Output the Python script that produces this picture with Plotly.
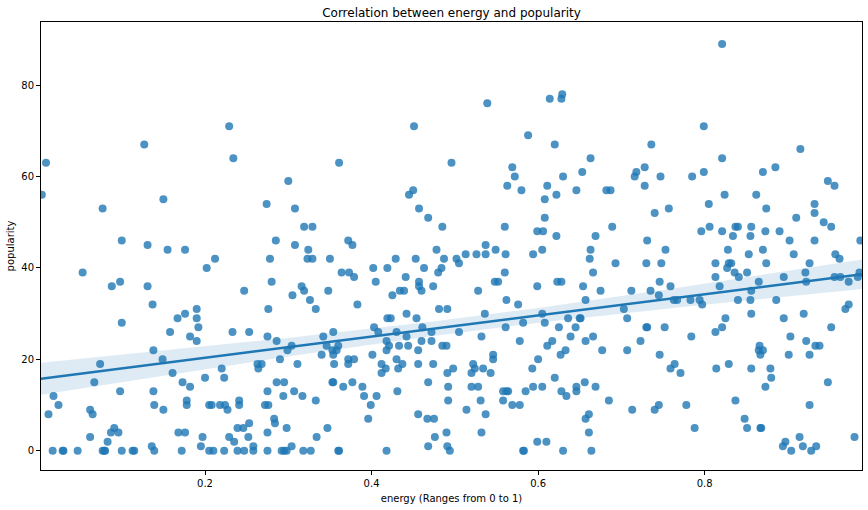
import plotly.graph_objects as go
import numpy as np

# energy / popularity pairs (popularity > 0)
energy = [
    0.009, 0.004, 0.077, 0.127, 0.150, 0.100, 0.131, 0.155, 0.176, 0.229,
    0.234, 0.202, 0.212, 0.053, 0.088, 0.098, 0.131, 0.247, 0.137, 0.100,
    0.167, 0.176, 0.190, 0.190, 0.192, 0.158, 0.182, 0.190, 0.233, 0.253,
    0.138, 0.074, 0.149, 0.161, 0.067, 0.098, 0.138, 0.173, 0.182, 0.200,
    0.220, 0.223, 0.018, 0.024, 0.012, 0.062, 0.065, 0.139, 0.150, 0.178,
    0.178, 0.205, 0.208, 0.218, 0.224, 0.227, 0.241, 0.241, 0.239, 0.246,
    0.253, 0.229, 0.235, 0.252, 0.062, 0.083, 0.087, 0.091, 0.096, 0.136,
    0.168, 0.176, 0.197, 0.195,
    # 0.25 - 0.50
    0.451, 0.361, 0.496, 0.300, 0.274, 0.308, 0.319, 0.329, 0.285, 0.308,
    0.324, 0.372, 0.377, 0.450, 0.445, 0.457, 0.468, 0.485, 0.478, 0.278,
    0.323, 0.329, 0.350, 0.429, 0.453, 0.487, 0.502, 0.505, 0.402, 0.419,
    0.463, 0.364, 0.373, 0.379, 0.484, 0.480, 0.280, 0.405, 0.441, 0.457,
    0.457, 0.460, 0.474, 0.316, 0.319, 0.305, 0.348, 0.326, 0.434, 0.439,
    0.425, 0.276, 0.333, 0.383, 0.481, 0.491, 0.442, 0.454, 0.419, 0.423,
    0.275, 0.286, 0.342, 0.354, 0.403, 0.408, 0.430, 0.461, 0.472, 0.505,
    0.442, 0.418, 0.460, 0.472, 0.304, 0.299, 0.346, 0.360, 0.353, 0.358,
    0.354, 0.340, 0.421, 0.433, 0.444, 0.418, 0.456, 0.485, 0.490, 0.401,
    0.290, 0.372, 0.379, 0.430, 0.263, 0.268, 0.264, 0.311, 0.355, 0.372,
    0.412, 0.437, 0.456, 0.474, 0.417, 0.432, 0.412, 0.491, 0.498, 0.286,
    0.295, 0.353, 0.354, 0.377, 0.468, 0.275, 0.294, 0.307, 0.317, 0.366,
    0.389, 0.391, 0.406, 0.431, 0.492, 0.333, 0.492, 0.272, 0.276, 0.399,
    0.283, 0.284, 0.396, 0.456, 0.467, 0.475, 0.298, 0.347, 0.275, 0.490,
    0.334, 0.476, 0.258, 0.304, 0.468, 0.491,
    # 0.50 - 0.76
    0.539, 0.614, 0.628, 0.629, 0.588, 0.620, 0.736, 0.663, 0.569, 0.572,
    0.563, 0.580, 0.611, 0.630, 0.653, 0.622, 0.608, 0.646, 0.682, 0.687,
    0.718, 0.728, 0.716, 0.747, 0.728, 0.757, 0.740, 0.608, 0.560, 0.599,
    0.606, 0.622, 0.669, 0.689, 0.731, 0.537, 0.549, 0.605, 0.663, 0.753,
    0.513, 0.526, 0.537, 0.561, 0.594, 0.662, 0.666, 0.560, 0.693, 0.730,
    0.748, 0.548, 0.552, 0.623, 0.628, 0.746, 0.528, 0.599, 0.654, 0.675,
    0.712, 0.735, 0.745, 0.759, 0.562, 0.576, 0.657, 0.703, 0.536, 0.605,
    0.707, 0.636, 0.650, 0.651, 0.582, 0.608, 0.561, 0.625, 0.645, 0.730,
    0.731, 0.752, 0.532, 0.578, 0.617, 0.611, 0.639, 0.657, 0.666, 0.723,
    0.633, 0.627, 0.677, 0.707, 0.746, 0.546, 0.546, 0.600, 0.522, 0.520,
    0.524, 0.534, 0.543, 0.593, 0.759, 0.620, 0.656, 0.520, 0.528, 0.594,
    0.605, 0.646, 0.669, 0.558, 0.562, 0.564, 0.585, 0.628, 0.634, 0.646,
    0.531, 0.558, 0.569, 0.578, 0.685, 0.745, 0.514, 0.713, 0.740, 0.537,
    0.657, 0.661, 0.532, 0.661, 0.599, 0.610,
    # 0.76 - 0.99
    0.821, 0.799, 0.915, 0.821, 0.785, 0.799, 0.870, 0.885, 0.948, 0.956,
    0.824, 0.862, 0.805, 0.874, 0.932, 0.932, 0.910, 0.943, 0.952, 0.796,
    0.806, 0.821, 0.837, 0.840, 0.856, 0.834, 0.855, 0.873, 0.890, 0.902,
    0.932, 0.987, 0.828, 0.870,
    0.853, 0.907, 0.957, 0.962, 0.813, 0.829, 0.832, 0.874, 0.926, 0.827,
    0.836, 0.841, 0.851, 0.813, 0.921, 0.956, 0.963, 0.986, 0.984, 0.865,
    0.895, 0.922, 0.973, 0.818, 0.856, 0.763, 0.767, 0.783, 0.794, 0.797,
    0.840, 0.855, 0.886, 0.973, 0.969, 0.856, 0.825, 0.895, 0.919, 0.821,
    0.813, 0.952, 0.784, 0.903, 0.922, 0.933, 0.938, 0.866, 0.865, 0.870,
    0.867, 0.901, 0.926, 0.764, 0.771, 0.814, 0.829, 0.856, 0.879, 0.880,
    0.873, 0.948, 0.837, 0.778, 0.926, 0.848, 0.788, 0.851, 0.867, 0.868,
    0.897, 0.894, 0.914, 0.918, 0.934, 0.980,
]
popularity = [
    63, 56, 53, 67, 55, 46, 45, 44, 44, 71,
    64, 40, 42, 39, 36, 37, 36, 35, 32, 28,
    29, 30, 31, 29, 27, 26, 25, 24, 26, 26,
    22, 19, 20, 17, 15, 13, 13, 15, 14, 16,
    18, 16, 12, 10, 8, 9, 8, 10, 9, 11,
    10, 10, 10, 10, 10, 9, 11, 10, 5, 5,
    6, 3, 2, 3, 3, 2, 4, 5, 4, 1,
    4, 4, 3, 1,
    # 0.25 - 0.50
    71, 63, 63, 59, 54, 53, 49, 49, 46, 45,
    44, 46, 45, 57, 56, 53, 51, 49, 44, 42,
    42, 42, 42, 42, 42, 42, 42, 41, 40, 40,
    40, 39, 39, 38, 40, 39, 37, 37, 38, 37,
    36, 35, 36, 36, 35, 34, 35, 33, 35, 35,
    34, 31, 31, 32, 31, 31, 30, 29, 29, 29,
    25, 24, 25, 26, 27, 26, 26, 27, 26, 26,
    25, 24, 24, 24, 23, 22, 23, 23, 22, 22,
    21, 21, 23, 23, 23, 22, 22, 23, 23, 21,
    20, 20, 20, 20, 19, 19, 18, 19, 19, 19,
    19, 19, 19, 19, 18, 18, 17, 17, 18, 15,
    15, 15, 15, 15, 15, 13, 12, 13, 12, 14,
    14, 12, 12, 13, 14, 11, 11, 10, 10, 10,
    7, 6, 7, 8, 7, 7, 5, 5, 4, 4,
    3, 3, 1, 1, 1, 1,
    # 0.50 - 0.76
    76, 77, 77, 78, 69, 67, 67, 64, 62, 60,
    58, 57, 58, 60, 61, 56, 55, 57, 57, 57,
    61, 62, 60, 60, 58, 53, 52, 51, 49, 48,
    48, 47, 47, 49, 46, 45, 44, 44, 44, 44,
    43, 43, 43, 43, 43, 42, 39, 39, 41, 41,
    41, 37, 37, 37, 37, 37, 35, 36, 36, 35,
    35, 35, 34, 36, 33, 32, 33, 31, 30, 30,
    29, 29, 29, 29, 28, 28, 27, 27, 27, 27,
    27, 27, 25, 24, 24, 23, 25, 24, 25, 24,
    22, 21, 22, 22, 21, 21, 20, 20, 19, 17,
    18, 18, 17, 18, 18, 16, 15, 14, 14, 14,
    14, 14, 14, 13, 13, 13, 13, 13, 12, 13,
    11, 11, 10, 10, 11, 10, 9, 9, 9, 8,
    7, 8, 4, 4, 2, 2,
    # 0.76 - 0.99
    89, 71, 66, 64, 60, 61, 61, 62, 59, 58,
    56, 56, 54, 53, 54, 52, 51, 50, 49, 48,
    49, 48, 49, 49, 49, 47, 47, 48, 48, 46,
    46, 46, 44, 44,
    43, 43, 43, 42, 41, 41, 41, 41, 41, 40,
    39, 38, 39, 38, 39, 38, 38, 39, 38, 37,
    38, 37, 37, 36, 35, 33, 33, 33, 33, 32,
    33, 33, 33, 32, 31, 30, 29, 29, 30, 27,
    26, 27, 25, 25, 24, 23, 23, 23, 22, 22,
    21, 21, 21, 19, 17, 18, 19, 18, 18, 16,
    14, 15, 11, 10, 10, 7, 5, 5, 5, 5,
    2, 1, 3, 1, 1, 3,
]
# energy of the songs sitting on popularity 0
energy_zero = [
    0.017, 0.029, 0.030, 0.047, 0.077, 0.079, 0.080, 0.100, 0.113, 0.115,
    0.139, 0.172, 0.205, 0.210, 0.223, 0.239, 0.247, 0.258, 0.275, 0.292,
    0.295, 0.298, 0.318, 0.327, 0.360, 0.361, 0.418, 0.494, 0.582, 0.583,
    0.630, 0.664, 0.904, 0.928,
]

x = np.array(energy + energy_zero, dtype=float)
y = np.array(popularity + [0] * len(energy_zero), dtype=float)

# linear fit with 95% confidence band
slope, intercept = np.polyfit(x, y, 1)
n = len(x)
resid = y - (slope * x + intercept)
s = np.sqrt(np.sum(resid ** 2) / (n - 2))
sxx = np.sum((x - x.mean()) ** 2)
xmin, xmax = 0.003, 0.989
xs = np.linspace(xmin, xmax, 100)
ys = slope * xs + intercept
se = s * np.sqrt(1 / n + (xs - x.mean()) ** 2 / sxx)
lo, hi = ys - 1.96 * se, ys + 1.96 * se

fig = go.Figure()

fig.add_trace(go.Scatter(
    x=x, y=y, mode='markers',
    marker=dict(color='#1f77b4', size=8, opacity=0.8, line=dict(width=0)),
    showlegend=False
))
fig.add_trace(go.Scatter(
    x=xs, y=lo, mode='lines', line=dict(width=0), showlegend=False,
    hoverinfo='skip'
))
fig.add_trace(go.Scatter(
    x=xs, y=hi, mode='lines', line=dict(width=0), fill='tonexty',
    fillcolor='rgba(31, 119, 180, 0.15)', showlegend=False, hoverinfo='skip'
))
fig.add_trace(go.Scatter(
    x=xs, y=ys, mode='lines', line=dict(color='#1f77b4', width=2.5),
    showlegend=False
))

axis_style = dict(
    showline=True, linecolor='black', linewidth=1, mirror=True,
    ticks='outside', ticklen=4, tickcolor='black', showgrid=False,
    zeroline=False, tickfont=dict(size=10, color='black'), automargin=False
)

fig.update_layout(
    width=868, height=510,
    margin=dict(l=41, r=6, t=22, b=40),
    plot_bgcolor='white', paper_bgcolor='white',
    font=dict(family='DejaVu Sans', color='black', size=10),
    title=dict(
        text='Correlation between energy and popularity',
        x=0.5, xref='paper', xanchor='center',
        y=1 - 13 / 510, yref='container', yanchor='middle',
        font=dict(size=12, color='black')
    ),
    xaxis=dict(
        range=[xmin, xmax], tickvals=[0.2, 0.4, 0.6, 0.8],
        title=dict(text='energy (Ranges from 0 to 1)', standoff=6,
                   font=dict(size=10)),
        **axis_style
    ),
    yaxis=dict(
        range=[-4.2, 93.8], tickvals=[0, 20, 40, 60, 80],
        title=dict(text='popularity', standoff=4, font=dict(size=10)),
        **axis_style
    ),
)

# drop the browser's default body margin so the figure sits at the page origin
fig.write_html('out.html', config={'displayModeBar': False},
               post_script="document.body.style.margin='0';")
